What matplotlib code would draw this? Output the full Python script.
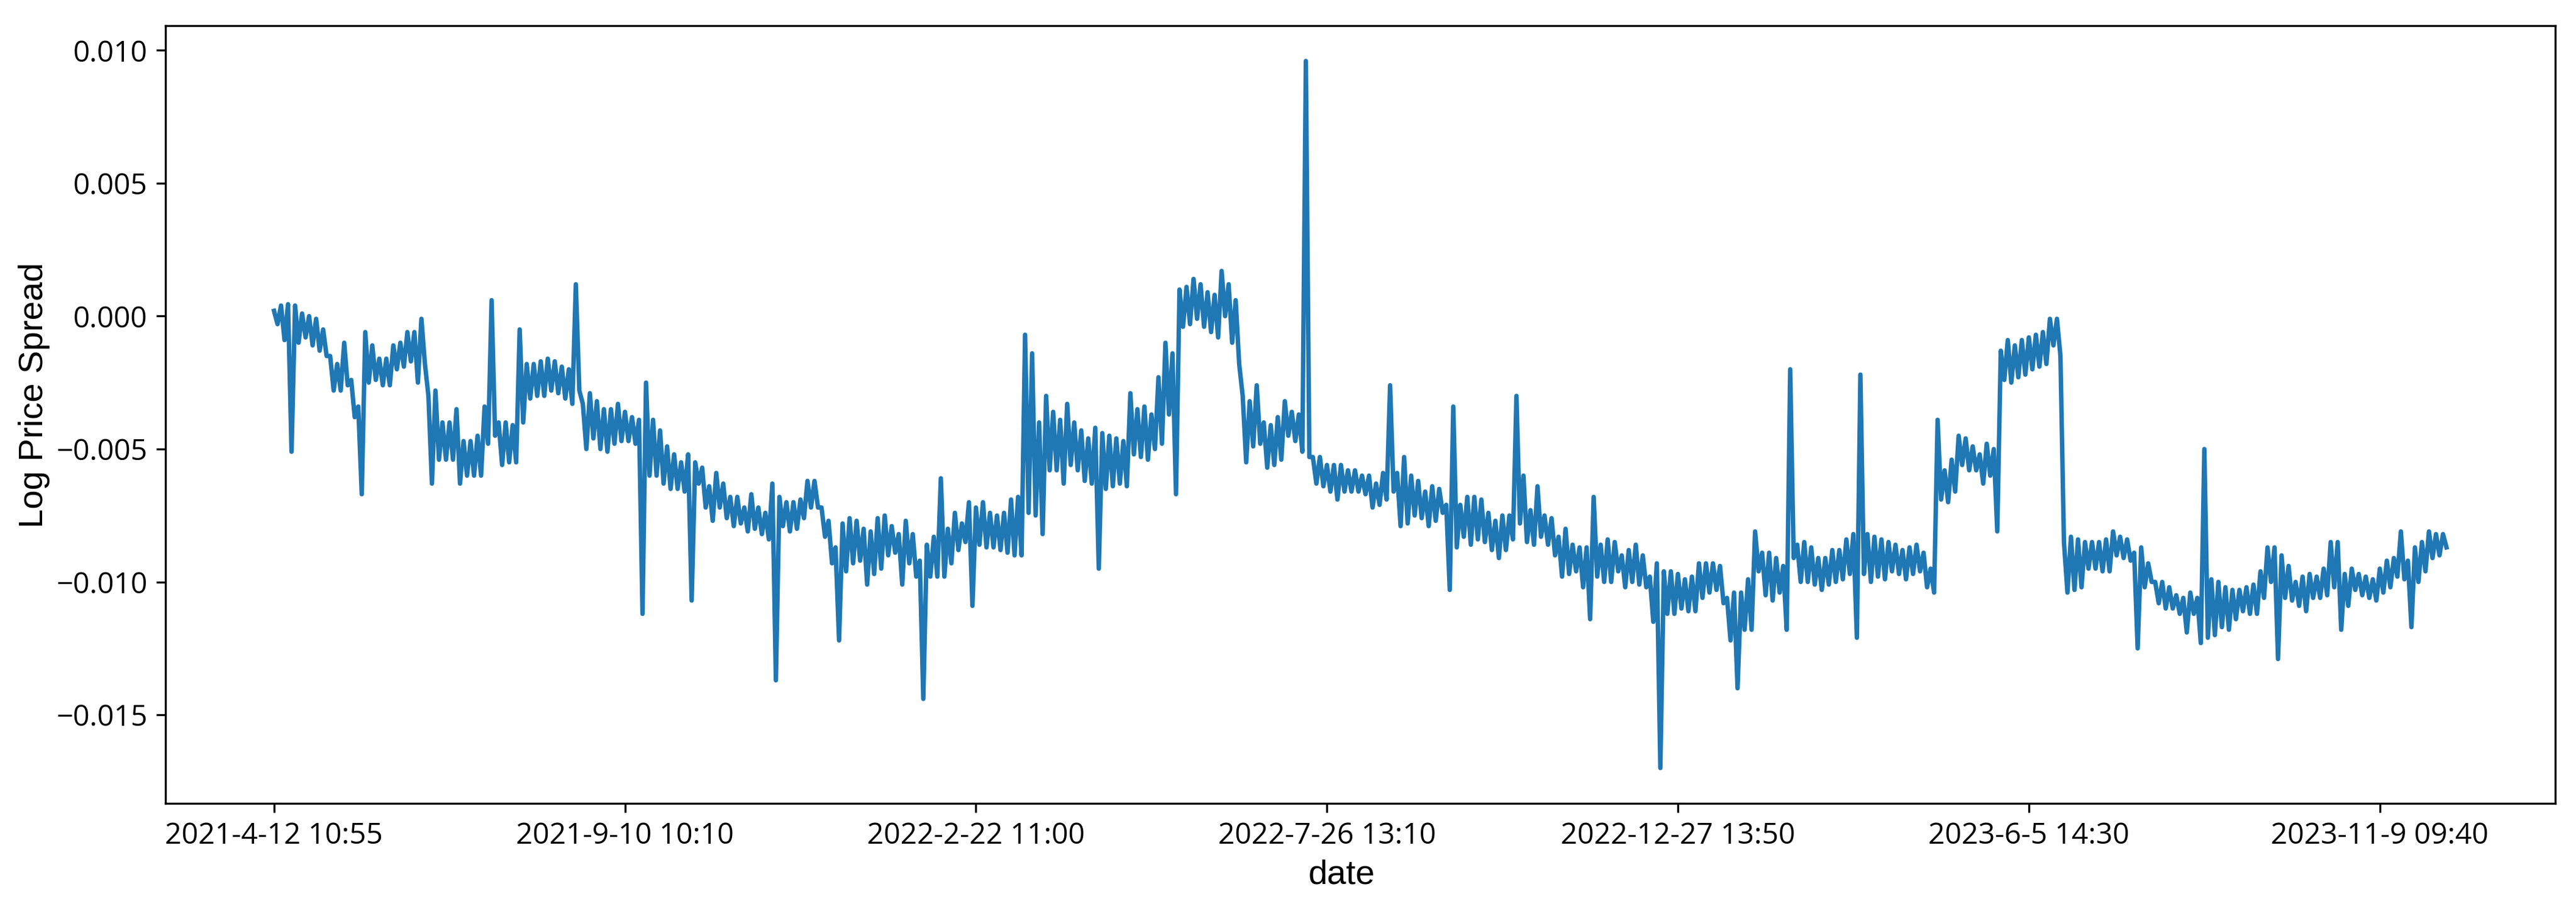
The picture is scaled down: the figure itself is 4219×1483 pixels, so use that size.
import matplotlib
matplotlib.use('Agg')
import matplotlib.pyplot as plt

# The spread wiggles inside a narrow band, so the chart was read as the
# upper and lower edge of the band at each step (units of 1e-3).
# Spikes sit in whichever edge they point to.
band_hi_e3 = [
    # 2021-4 .. 2021-9
    0.2, 0.4, 0.45, 0.4, 0.1, 0.0, -0.1, -0.5, -1.5, -1.8,
    -1.0, -2.4, -3.4, -0.6, -1.1, -1.6, -1.6, -1.1, -1.0, -0.6,
    -0.6, -0.1, -3.0, -2.8, -4.0, -4.0, -3.5, -4.7, -4.7, -4.5,
    -3.4, 0.6, -4.0, -4.0, -4.1, -0.5, -1.8, -1.8, -1.7, -1.6,
    -1.7, -1.9, -2.0, 1.2, -3.3, -2.9, -3.2, -3.5, -3.5, -3.3,
    -3.6, -3.8, -3.9,
    # 2021-9 .. 2022-2
    -2.5, -3.9, -4.3, -4.9, -5.2, -5.5, -5.2, -5.5, -5.7, -6.4,
    -5.9, -6.3, -6.8, -6.8, -7.2, -6.7, -7.2, -7.4, -6.3, -6.8,
    -7.0, -7.0, -6.9, -6.2, -6.2, -7.2, -7.7, -8.7, -7.8, -7.6,
    -7.7, -8.0, -8.1, -7.6, -7.5, -7.9, -8.2, -7.7, -8.2, -9.2,
    -8.6, -8.3, -6.1, -8.0, -7.4, -7.8, -7.0, -7.2, -7.0, -7.4,
    -7.5, -7.4, -6.9,
    # 2022-2 .. 2022-7
    -6.8, -0.7, -1.4, -4.0, -3.0, -3.6, -3.9, -3.3, -4.0, -4.3,
    -4.6, -4.2, -4.4, -4.5, -4.6, -4.7, -2.9, -3.5, -3.4, -3.7,
    -2.3, -1.0, -1.4, 1.0, 1.1, 1.4, 1.2, 0.9, 0.8, 1.7,
    1.2, 0.6, -3.0, -3.2, -2.6, -4.0, -4.1, -3.8, -3.2, -3.6,
    -3.7, 9.6, -5.3, -5.3, -5.6, -5.6, -5.6, -5.8, -5.8, -6.0,
    -6.0, -6.3, -5.9, -2.6,
    # 2022-7 .. 2022-12
    -5.9, -5.3, -6.0, -6.2, -6.6, -6.4, -6.5, -7.1, -3.4, -7.1,
    -6.8, -6.8, -6.9, -7.4, -7.7, -7.5, -7.5, -3.0, -6.0, -7.3,
    -6.4, -7.5, -7.6, -8.3, -8.0, -8.6, -8.7, -8.7, -6.8, -8.6,
    -8.4, -8.5, -9.0, -8.8, -8.6, -9.0, -9.8, -9.3, -9.6, -9.6,
    -9.7, -9.9, -9.8, -9.3, -9.3, -9.3, -9.4, -10.6, -10.4, -10.4,
    -9.9, -8.1, -8.9,
    # 2022-12 .. 2023-6
    -8.9, -9.1, -9.4, -2.0, -8.6, -8.5, -8.7, -9.1, -9.1, -8.8,
    -8.8, -8.4, -8.2, -2.2, -8.2, -8.3, -8.4, -8.5, -8.6, -8.8,
    -8.7, -8.6, -8.9, -9.5, -3.9, -5.8, -5.4, -4.5, -4.6, -4.9,
    -5.2, -4.8, -5.0, -1.3, -0.9, -1.1, -0.9, -0.8, -0.7, -0.6,
    -0.1, -0.1, -8.5, -8.3, -8.4, -8.5, -8.5, -8.5, -8.4, -8.1,
    -8.3, -8.4, -8.9,
    # 2023-6 .. end
    -8.7, -9.3, -10.0, -10.0, -10.2, -10.5, -10.6, -10.4, -10.6, -5.0,
    -9.9, -10.0, -10.2, -10.3, -10.3, -10.2, -10.1, -9.6, -8.7, -8.7,
    -9.0, -9.4, -10.0, -9.8, -9.7, -9.8, -9.5, -8.5, -8.5, -9.7,
    -9.5, -9.7, -9.8, -9.9, -9.5, -9.2, -9.1, -8.1, -9.2, -8.7,
    -8.5, -8.1, -8.2, -8.2,
]
band_lo_e3 = [
    # 2021-4 .. 2021-9
    -0.3, -0.9, -5.1, -1.0, -0.8, -1.1, -1.3, -1.5, -2.8, -2.8,
    -2.6, -3.8, -6.7, -2.5, -2.4, -2.6, -2.6, -2.0, -1.9, -1.7,
    -2.5, -1.8, -6.3, -5.4, -5.4, -5.4, -6.3, -6.0, -6.0, -6.0,
    -4.8, -4.5, -5.6, -5.5, -5.5, -4.0, -3.1, -3.0, -3.0, -2.8,
    -2.9, -3.1, -3.3, -2.8, -5.0, -4.6, -5.0, -5.1, -4.8, -4.7,
    -4.7, -4.8, -11.2,
    # 2021-9 .. 2022-2
    -6.0, -6.0, -6.3, -6.5, -6.5, -6.6, -10.7, -6.3, -7.2, -7.7,
    -7.2, -7.6, -7.9, -7.8, -8.1, -8.0, -8.2, -8.4, -13.7, -7.9,
    -8.1, -8.0, -7.6, -7.2, -7.2, -8.3, -9.3, -12.2, -9.6, -9.3,
    -9.2, -10.1, -9.7, -9.5, -9.0, -8.9, -10.1, -9.3, -9.8, -14.4,
    -9.8, -9.8, -9.8, -9.3, -8.8, -8.5, -10.9, -8.6, -8.7, -8.7,
    -8.8, -8.9, -9.0,
    # 2022-2 .. 2022-7
    -9.0, -7.4, -7.5, -8.2, -5.8, -5.8, -6.3, -5.6, -5.8, -6.2,
    -6.3, -9.5, -6.5, -6.4, -6.3, -6.4, -5.2, -5.3, -5.4, -5.0,
    -4.8, -3.7, -6.7, -0.4, -0.3, -0.1, -0.4, -0.6, -0.8, 0.0,
    -1.0, -1.8, -5.5, -4.9, -4.8, -5.7, -5.6, -5.4, -4.5, -4.7,
    -5.1, -5.3, -6.3, -6.4, -6.6, -6.9, -6.6, -6.6, -6.6, -6.7,
    -7.2, -7.1, -6.9, -6.6,
    # 2022-7 .. 2022-12
    -7.9, -7.8, -7.5, -7.6, -7.9, -7.7, -7.4, -10.3, -8.7, -8.3,
    -8.6, -8.4, -8.5, -8.8, -9.1, -8.8, -8.4, -7.8, -8.5, -8.6,
    -8.3, -8.6, -9.0, -9.8, -9.7, -9.6, -10.2, -11.4, -9.8, -10.0,
    -10.0, -9.6, -10.2, -10.0, -10.1, -10.2, -11.5, -17.0, -11.2, -11.2,
    -11.0, -11.1, -11.1, -10.6, -10.4, -10.3, -10.8, -12.2, -14.0, -11.8,
    -11.8, -9.6, -10.5,
    # 2022-12 .. 2023-6
    -10.7, -10.4, -11.8, -9.1, -10.0, -10.0, -10.1, -10.3, -10.1, -10.0,
    -9.9, -9.7, -12.1, -9.7, -10.0, -9.8, -9.9, -9.6, -9.7, -9.9,
    -9.7, -9.6, -10.2, -10.4, -6.9, -7.0, -6.6, -5.6, -5.8, -5.8,
    -6.3, -6.0, -8.1, -2.4, -2.5, -2.3, -2.2, -2.0, -1.9, -1.8,
    -1.1, -1.5, -10.4, -10.3, -10.2, -9.5, -9.5, -9.6, -9.6, -9.0,
    -9.1, -9.2, -12.5,
    # 2023-6 .. end
    -10.2, -10.0, -10.8, -11.0, -11.0, -11.2, -11.9, -11.2, -12.3, -12.1,
    -12.0, -11.7, -11.8, -11.4, -11.1, -11.2, -11.2, -10.6, -10.0, -12.9,
    -10.6, -10.7, -10.9, -11.1, -10.6, -10.6, -10.5, -10.2, -11.8, -10.9,
    -10.3, -10.5, -10.6, -10.7, -10.4, -10.2, -9.8, -9.9, -11.7, -10.0,
    -9.6, -9.1, -9.0, -8.7,
]

tick_step = 100
tick_labels = ['2021-4-12 10:55', '2021-9-10 10:10', '2022-2-22 11:00',
               '2022-7-26 13:10', '2022-12-27 13:50', '2023-6-5 14:30',
               '2023-11-9 09:40']

# the line runs up and down between the two edges
spread = []
for hi, lo in zip(band_hi_e3, band_lo_e3):
    spread.append(hi / 1000)
    spread.append(lo / 1000)

plt.rcParams['font.family'] = ['Open Sans', 'DejaVu Sans']

fig = plt.figure(figsize=(4219 / 300, 1483 / 300), dpi=300)
ax = fig.add_axes([0.0642, 0.1133, 0.9277, 0.8584])

ax.plot(range(len(spread)), spread, color='#1f77b4', linewidth=1.75)

ax.set_xticks(range(0, len(spread), tick_step))
ax.set_xticklabels(tick_labels)
ax.set_yticks([-0.015, -0.010, -0.005, 0.000, 0.005, 0.010])
ax.tick_params(labelsize=11.5)

ax.set_xlabel('date', fontsize=13.5, family='Liberation Sans')
ax.set_ylabel('Log Price Spread', fontsize=13.5, family='Liberation Sans')
ax.xaxis.set_label_coords(0.4921, -0.072)
ax.yaxis.set_label_coords(-0.0483, 0.5248)

fig.savefig('out.png', dpi=300)
